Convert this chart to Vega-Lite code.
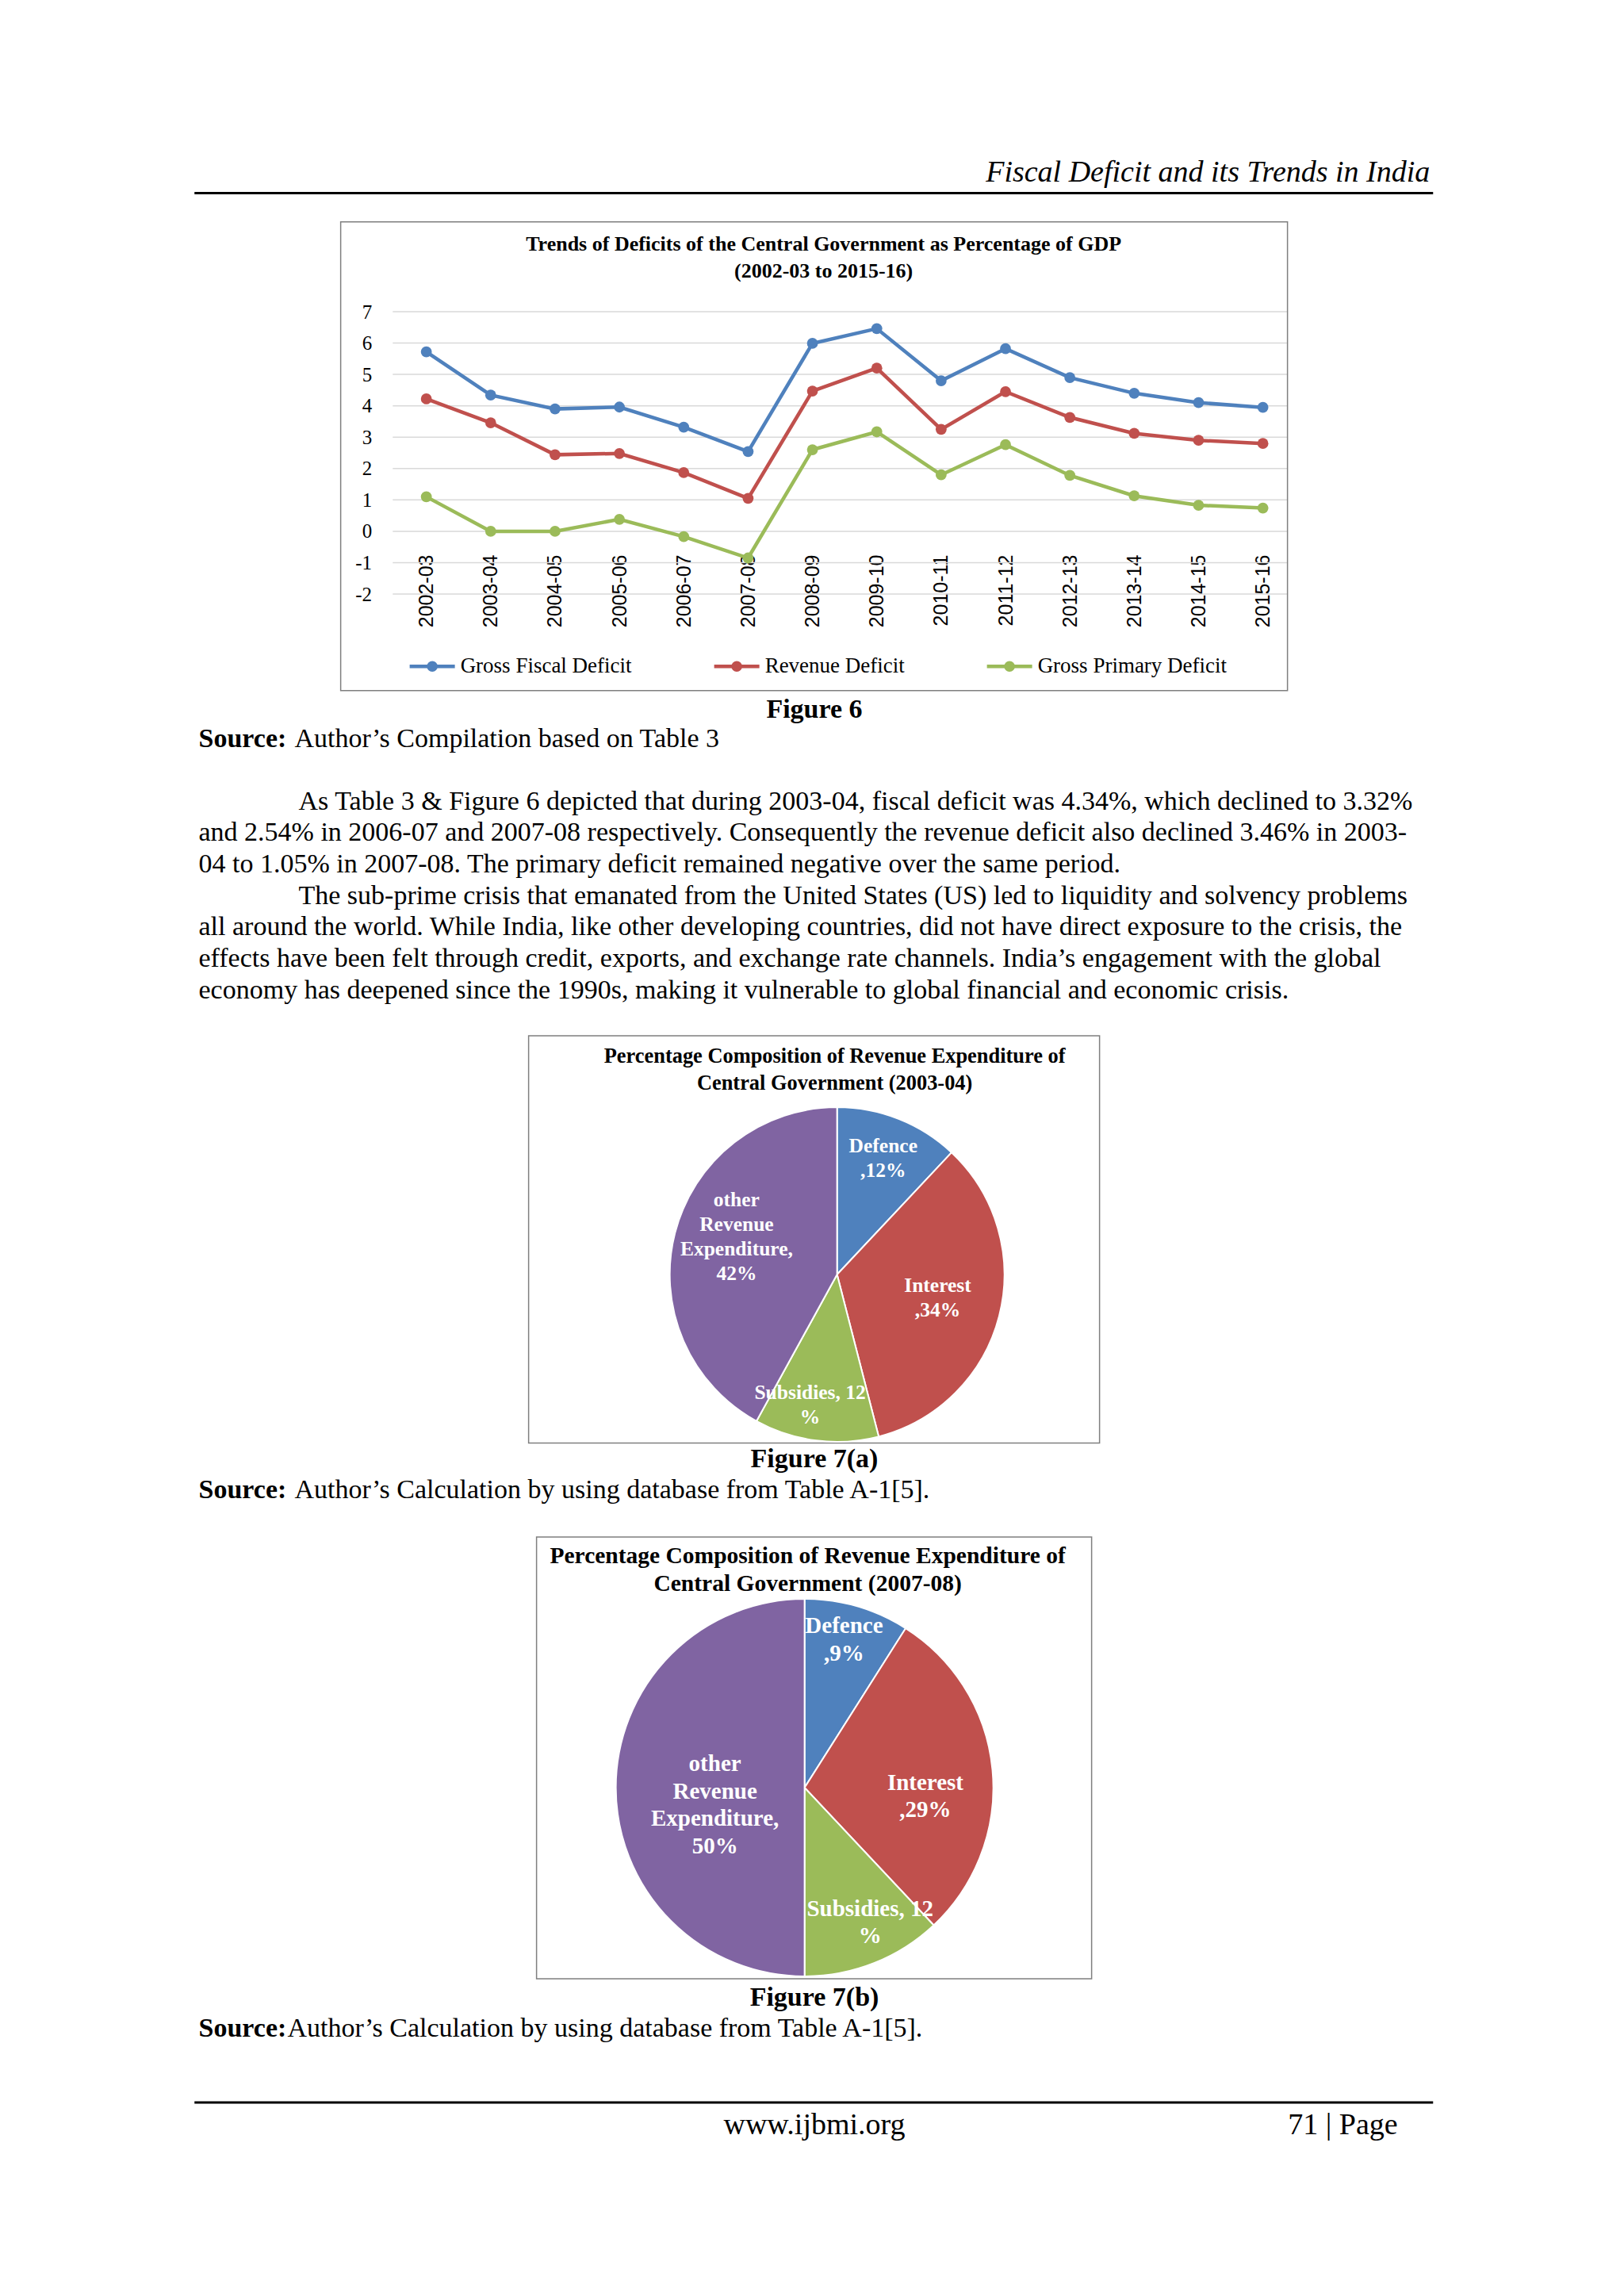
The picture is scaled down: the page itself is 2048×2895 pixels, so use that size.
{
  "$schema": "https://vega.github.io/schema/vega-lite/v6.json",
  "background": "white",
  "padding": {"top": 194, "left": 243, "right": 243, "bottom": 205},
  "spacing": 0,
  "center": true,
  "resolve": {"scale": {"color": "independent", "theta": "independent"}, "legend": {"color": "independent"}},
  "config": {"view": {"stroke": null}, "font": "Liberation Serif", "title": {"color": "#000"}},
  "vconcat": [
    {
      "width": 1562, "height": 48,
      "data": {"values": [{"header": "Fiscal Deficit and its Trends in India"}]},
      "mark": {"type": "text", "font": "Liberation Serif", "fontStyle": "italic", "fontSize": 38, "align": "right", "baseline": "middle", "fill": "#000"},
      "encoding": {
        "text": {"field": "header"},
        "x": {"datum": 0.997, "type": "quantitative", "scale": {"domain": [0, 1]}, "axis": null}
      }
    },
    {
      "width": 1562, "height": 35.15,
      "data": {"values": [{}]},
      "mark": {"type": "rule", "color": "#000", "strokeWidth": 3},
      "encoding": {"y": {"datum": 0.957, "type": "quantitative", "scale": {"domain": [0, 1]}, "axis": null}}
    },
    {
      "width": 1194, "height": 356,
      "title": {"text": ["Trends of Deficits of the Central Government as Percentage of GDP", "(2002-03 to 2015-16)"], "font": "Liberation Serif", "fontSize": 26, "fontWeight": "bold", "lineHeight": 34, "anchor": "middle", "offset": -76, "dx": 12},
      "layer": [
        {
          "data": {"values": [{"level": -2}, {"level": -1}, {"level": 0}, {"level": 1}, {"level": 2}, {"level": 3}, {"level": 4}, {"level": 5}, {"level": 6}, {"level": 7}]},
          "mark": {"type": "rule", "color": "#d9d9d9", "strokeWidth": 1.5},
          "encoding": {
            "y": {"field": "level", "type": "quantitative", "scale": {"domain": [-2, 7], "nice": false, "zero": false}, "axis": null},
            "x": {"datum": 0.055, "type": "quantitative", "scale": {"domain": [0, 1], "nice": false}, "axis": null},
            "x2": {"datum": 1}
          }
        },
        {
          "data": {"values": [
            {"year": "2002-03", "series": "Gross Fiscal Deficit", "value": 5.72},
            {"year": "2003-04", "series": "Gross Fiscal Deficit", "value": 4.34},
            {"year": "2004-05", "series": "Gross Fiscal Deficit", "value": 3.9},
            {"year": "2005-06", "series": "Gross Fiscal Deficit", "value": 3.96},
            {"year": "2006-07", "series": "Gross Fiscal Deficit", "value": 3.32},
            {"year": "2007-08", "series": "Gross Fiscal Deficit", "value": 2.54},
            {"year": "2008-09", "series": "Gross Fiscal Deficit", "value": 5.99},
            {"year": "2009-10", "series": "Gross Fiscal Deficit", "value": 6.46},
            {"year": "2010-11", "series": "Gross Fiscal Deficit", "value": 4.8},
            {"year": "2011-12", "series": "Gross Fiscal Deficit", "value": 5.82},
            {"year": "2012-13", "series": "Gross Fiscal Deficit", "value": 4.9},
            {"year": "2013-14", "series": "Gross Fiscal Deficit", "value": 4.4},
            {"year": "2014-15", "series": "Gross Fiscal Deficit", "value": 4.1},
            {"year": "2015-16", "series": "Gross Fiscal Deficit", "value": 3.95},
            {"year": "2002-03", "series": "Revenue Deficit", "value": 4.22},
            {"year": "2003-04", "series": "Revenue Deficit", "value": 3.46},
            {"year": "2004-05", "series": "Revenue Deficit", "value": 2.44},
            {"year": "2005-06", "series": "Revenue Deficit", "value": 2.48},
            {"year": "2006-07", "series": "Revenue Deficit", "value": 1.87},
            {"year": "2007-08", "series": "Revenue Deficit", "value": 1.05},
            {"year": "2008-09", "series": "Revenue Deficit", "value": 4.47},
            {"year": "2009-10", "series": "Revenue Deficit", "value": 5.2},
            {"year": "2010-11", "series": "Revenue Deficit", "value": 3.25},
            {"year": "2011-12", "series": "Revenue Deficit", "value": 4.45},
            {"year": "2012-13", "series": "Revenue Deficit", "value": 3.63},
            {"year": "2013-14", "series": "Revenue Deficit", "value": 3.12},
            {"year": "2014-15", "series": "Revenue Deficit", "value": 2.9},
            {"year": "2015-16", "series": "Revenue Deficit", "value": 2.8},
            {"year": "2002-03", "series": "Gross Primary Deficit", "value": 1.1},
            {"year": "2003-04", "series": "Gross Primary Deficit", "value": 0.0},
            {"year": "2004-05", "series": "Gross Primary Deficit", "value": 0.0},
            {"year": "2005-06", "series": "Gross Primary Deficit", "value": 0.38},
            {"year": "2006-07", "series": "Gross Primary Deficit", "value": -0.17},
            {"year": "2007-08", "series": "Gross Primary Deficit", "value": -0.85},
            {"year": "2008-09", "series": "Gross Primary Deficit", "value": 2.6},
            {"year": "2009-10", "series": "Gross Primary Deficit", "value": 3.17},
            {"year": "2010-11", "series": "Gross Primary Deficit", "value": 1.8},
            {"year": "2011-12", "series": "Gross Primary Deficit", "value": 2.76},
            {"year": "2012-13", "series": "Gross Primary Deficit", "value": 1.78},
            {"year": "2013-14", "series": "Gross Primary Deficit", "value": 1.13},
            {"year": "2014-15", "series": "Gross Primary Deficit", "value": 0.83},
            {"year": "2015-16", "series": "Gross Primary Deficit", "value": 0.74}
          ]},
          "mark": {"type": "line", "strokeWidth": 4.5, "point": {"filled": true, "size": 190}},
          "encoding": {
            "x": {"field": "year", "type": "ordinal", "sort": null,
                  "scale": {"type": "point", "padding": 0.8566, "align": 0.777},
                  "axis": {"title": null, "domain": false, "ticks": false, "tickSize": 0, "grid": false, "labelAngle": -90, "labelFont": "Liberation Sans", "labelFontSize": 25, "labelColor": "#000", "labelPadding": 0, "offset": -50}},
            "y": {"field": "value", "type": "quantitative",
                  "scale": {"domain": [-2, 7], "nice": false, "zero": false},
                  "axis": {"values": [-2, -1, 0, 1, 2, 3, 4, 5, 6, 7], "labelExpr": "replace(datum.label, '\u2212', '-')", "title": null, "domain": false, "ticks": false, "grid": false, "labelFont": "Liberation Serif", "labelFontSize": 25, "labelColor": "#000", "labelPadding": 28, "offset": -67}},
            "color": {"field": "series", "type": "nominal",
                      "scale": {"domain": ["Gross Fiscal Deficit", "Revenue Deficit", "Gross Primary Deficit"], "range": ["#4F81BD", "#C0504D", "#9BBB59"]},
                      "legend": {"orient": "none", "legendX": 84.5, "legendY": 416, "direction": "horizontal", "columns": 3, "title": null,
                                 "symbolType": "M-1,0H1M-0.16,0A0.16,0.16,0,1,1,0.16,0A0.16,0.16,0,1,1,-0.16,0Z",
                                 "symbolSize": 3249, "symbolStrokeWidth": 4.5, "labelFont": "Liberation Serif", "labelFontSize": 27, "labelColor": "#000", "labelOffset": 4.5, "columnPadding": 94, "labelLimit": 0}}
          }
        },
        {
          "data": {"values": [{}]},
          "mark": {"type": "rect", "filled": false, "stroke": "#7f7f7f", "strokeWidth": 1.5},
          "encoding": {
            "x": {"datum": 0, "type": "quantitative", "scale": {"domain": [0, 1], "nice": false}, "axis": null},
            "x2": {"datum": 1},
            "y": {"datum": 1.3183, "type": "quantitative", "scale": {"domain": [0, 1], "nice": false, "zero": false}, "axis": null},
            "y2": {"datum": -0.3419}
          }
        }
      ],
      "resolve": {"scale": {"x": "independent", "y": "independent"}, "axis": {"x": "independent", "y": "independent"}}
    },
    {
      "width": 1553, "height": 40.9,
      "data": {"values": [{"caption": "Figure 6"}]},
      "mark": {"type": "text", "fontSize": 34, "fontWeight": "bold", "align": "center", "baseline": "middle", "dy": 2.6, "fill": "#000"},
      "encoding": {"text": {"field": "caption"}, "x": {"datum": 0.5, "type": "quantitative", "scale": {"domain": [0, 1]}, "axis": null}}
    },
    {
      "width": 1553, "height": 37.5,
      "data": {"values": [{"lead": "Source:", "rest": "Author’s Compilation based on Table 3"}]},
      "encoding": {"x": {"datum": 0, "type": "quantitative", "scale": {"domain": [0, 1]}, "axis": null}},
      "layer": [
        {"mark": {"type": "text", "fontSize": 34, "fontWeight": "bold", "align": "left", "baseline": "middle", "fill": "#000"}, "encoding": {"text": {"field": "lead"}}},
        {"mark": {"type": "text", "fontSize": 34, "align": "left", "baseline": "middle", "dx": 121, "fill": "#000"}, "encoding": {"text": {"field": "rest"}}}
      ]
    },
    {
      "width": 1553, "height": 353.6,
      "data": {"values": [
        {"line": "As Table 3 & Figure 6 depicted that during 2003-04, fiscal deficit was 4.34%, which declined to 3.32%"},
        {"line": "and 2.54% in 2006-07 and 2007-08 respectively. Consequently the revenue deficit also declined 3.46% in 2003-"},
        {"line": "04 to 1.05% in 2007-08. The primary deficit remained negative over the same period."},
        {"line": "The sub-prime crisis that emanated from the United States (US) led to liquidity and solvency problems"},
        {"line": "all around the world. While India, like other developing countries, did not have direct exposure to the crisis, the"},
        {"line": "effects have been felt through credit, exports, and exchange rate channels. India’s engagement with the global"},
        {"line": "economy has deepened since the 1990s, making it vulnerable to global financial and economic crisis."}
      ]},
      "transform": [{"window": [{"op": "row_number", "as": "n"}]}],
      "encoding": {
        "text": {"field": "line"},
        "x": {"datum": 0, "type": "quantitative", "scale": {"domain": [0, 1]}, "axis": null},
        "y": {"field": "n", "type": "ordinal", "scale": {"type": "band", "paddingInner": 0, "paddingOuter": 0.9534, "align": 0.5244}, "axis": null}
      },
      "layer": [
        {"transform": [{"filter": "datum.n == 1 || datum.n == 4"}],
         "mark": {"type": "text", "fontSize": 34, "align": "left", "baseline": "middle", "dx": 126, "fill": "#000"}},
        {"transform": [{"filter": "datum.n != 1 && datum.n != 4"}],
         "mark": {"type": "text", "fontSize": 34, "align": "left", "baseline": "middle", "fill": "#000"}}
      ]
    },
    {
      "width": 720, "height": 513.5,
      "view": {"stroke": "#7f7f7f", "strokeWidth": 1.5},
      "title": {"text": ["Percentage Composition of Revenue Expenditure of", "Central Government (2003-04)"], "font": "Liberation Serif", "fontSize": 26.4, "fontWeight": "bold", "lineHeight": 33.6, "anchor": "middle", "offset": -73, "dx": 26},
      "data": {"values": [
        {"category": "Defence", "share": 12, "label": "Defence\n,12%"},
        {"category": "Interest", "share": 34, "label": "Interest\n,34%"},
        {"category": "Subsidies", "share": 12, "label": "Subsidies, 12\n%"},
        {"category": "other Revenue Expenditure", "share": 42, "label": "other\nRevenue\nExpenditure,\n42%"}
      ]},
      "encoding": {
        "theta": {"field": "share", "type": "quantitative", "stack": true},
        "order": {"field": "category", "type": "nominal", "sort": "ascending"}
      },
      "layer": [
        {"mark": {"type": "arc", "outerRadius": 211, "x": 389, "y": 301, "stroke": "white", "strokeWidth": 2},
         "encoding": {"color": {"field": "category", "type": "nominal", "scale": {"domain": ["Defence", "Interest", "Subsidies", "other Revenue Expenditure"], "range": ["#4F81BD", "#C0504D", "#9BBB59", "#8064A2"]}, "legend": null}}},
        {"mark": {"type": "text", "radius": 158, "x": 389, "y": 301, "dy": -15.5, "fill": "white", "fontWeight": "bold", "fontSize": 25.5, "lineHeight": 31, "lineBreak": "\n", "align": "center", "baseline": "middle"},
         "encoding": {"text": {"condition": {"test": "datum.category == 'Defence'", "field": "label"}, "value": ""}}},
        {"mark": {"type": "text", "radius": 131, "x": 389, "y": 301, "dy": -19, "fill": "white", "fontWeight": "bold", "fontSize": 25.5, "lineHeight": 31, "lineBreak": "\n", "align": "center", "baseline": "middle"},
         "encoding": {"text": {"condition": {"test": "datum.category == 'Interest'", "field": "label"}, "value": ""}}},
        {"mark": {"type": "text", "radius": 168, "x": 389, "y": 301, "dx": -13, "dy": -17.5, "fill": "white", "fontWeight": "bold", "fontSize": 25.5, "lineHeight": 31, "lineBreak": "\n", "align": "center", "baseline": "middle"},
         "encoding": {"text": {"condition": {"test": "datum.category == 'Subsidies'", "field": "label"}, "value": ""}}},
        {"mark": {"type": "text", "radius": 136, "x": 389, "y": 301, "dx": 5, "dy": -60.5, "fill": "white", "fontWeight": "bold", "fontSize": 25.5, "lineHeight": 31, "lineBreak": "\n", "align": "center", "baseline": "middle"},
         "encoding": {"text": {"condition": {"test": "datum.category == 'other Revenue Expenditure'", "field": "label"}, "value": ""}}}
      ]
    },
    {
      "width": 1553, "height": 35.85,
      "data": {"values": [{"caption": "Figure 7(a)"}]},
      "mark": {"type": "text", "fontSize": 34, "fontWeight": "bold", "align": "center", "baseline": "middle", "dy": -1.85, "fill": "#000"},
      "encoding": {"text": {"field": "caption"}, "x": {"datum": 0.5, "type": "quantitative", "scale": {"domain": [0, 1]}, "axis": null}}
    },
    {
      "width": 1553, "height": 76.55,
      "data": {"values": [{"lead": "Source:", "rest": "Author’s Calculation by using database from Table A-1[5]."}]},
      "encoding": {"x": {"datum": 0, "type": "quantitative", "scale": {"domain": [0, 1]}, "axis": null}},
      "layer": [
        {"mark": {"type": "text", "fontSize": 34, "fontWeight": "bold", "align": "left", "baseline": "middle", "dy": -18.9, "fill": "#000"}, "encoding": {"text": {"field": "lead"}}},
        {"mark": {"type": "text", "fontSize": 34, "align": "left", "baseline": "middle", "dx": 121, "dy": -18.9, "fill": "#000"}, "encoding": {"text": {"field": "rest"}}}
      ]
    },
    {
      "width": 700, "height": 557,
      "view": {"stroke": "#7f7f7f", "strokeWidth": 1.5},
      "title": {"text": ["Percentage Composition of Revenue Expenditure of", "Central Government (2007-08)"], "font": "Liberation Serif", "fontSize": 29.5, "fontWeight": "bold", "lineHeight": 35, "anchor": "middle", "offset": -74, "dx": -8},
      "data": {"values": [
        {"category": "Defence", "share": 9, "label": "Defence\n,9%"},
        {"category": "Interest", "share": 29, "label": "Interest\n,29%"},
        {"category": "Subsidies", "share": 12, "label": "Subsidies, 12\n%"},
        {"category": "other Revenue Expenditure", "share": 50, "label": "other\nRevenue\nExpenditure,\n50%"}
      ]},
      "encoding": {
        "theta": {"field": "share", "type": "quantitative", "stack": true},
        "order": {"field": "category", "type": "nominal", "sort": "ascending"}
      },
      "layer": [
        {"mark": {"type": "arc", "outerRadius": 238, "x": 338, "y": 316, "stroke": "white", "strokeWidth": 2},
         "encoding": {"color": {"field": "category", "type": "nominal", "scale": {"domain": ["Defence", "Interest", "Subsidies", "other Revenue Expenditure"], "range": ["#4F81BD", "#C0504D", "#9BBB59", "#8064A2"]}, "legend": null}}},
        {"mark": {"type": "text", "radius": 193, "x": 338, "y": 316, "dx": -4, "dy": -18.25, "fill": "white", "fontWeight": "bold", "fontSize": 29, "lineHeight": 34.5, "lineBreak": "\n", "align": "center", "baseline": "middle"},
         "encoding": {"text": {"condition": {"test": "datum.category == 'Defence'", "field": "label"}, "value": ""}}},
        {"mark": {"type": "text", "radius": 153, "x": 338, "y": 316, "dy": 8.25, "fill": "white", "fontWeight": "bold", "fontSize": 29, "lineHeight": 34.5, "lineBreak": "\n", "align": "center", "baseline": "middle"},
         "encoding": {"text": {"condition": {"test": "datum.category == 'Interest'", "field": "label"}, "value": ""}}},
        {"mark": {"type": "text", "radius": 189, "x": 338, "y": 316, "dx": 13, "dy": -23, "fill": "white", "fontWeight": "bold", "fontSize": 29, "lineHeight": 34.5, "lineBreak": "\n", "align": "center", "baseline": "middle"},
         "encoding": {"text": {"condition": {"test": "datum.category == 'Subsidies'", "field": "label"}, "value": ""}}},
        {"mark": {"type": "text", "radius": 115, "x": 338, "y": 316, "dx": 2, "dy": -29.75, "fill": "white", "fontWeight": "bold", "fontSize": 29, "lineHeight": 34.5, "lineBreak": "\n", "align": "center", "baseline": "middle"},
         "encoding": {"text": {"condition": {"test": "datum.category == 'other Revenue Expenditure'", "field": "label"}, "value": ""}}}
      ]
    },
    {
      "width": 1553, "height": 41.35,
      "data": {"values": [{"caption": "Figure 7(b)"}]},
      "mark": {"type": "text", "fontSize": 34, "fontWeight": "bold", "align": "center", "baseline": "middle", "dy": 1.3, "fill": "#000"},
      "encoding": {"text": {"field": "caption"}, "x": {"datum": 0.5, "type": "quantitative", "scale": {"domain": [0, 1]}, "axis": null}}
    },
    {
      "width": 1553, "height": 38.7,
      "data": {"values": [{"lead": "Source:", "rest": "Author’s Calculation by using database from Table A-1[5]."}]},
      "encoding": {"x": {"datum": 0, "type": "quantitative", "scale": {"domain": [0, 1]}, "axis": null}},
      "layer": [
        {"mark": {"type": "text", "fontSize": 34, "fontWeight": "bold", "align": "left", "baseline": "middle", "fill": "#000"}, "encoding": {"text": {"field": "lead"}}},
        {"mark": {"type": "text", "fontSize": 34, "align": "left", "baseline": "middle", "dx": 112, "fill": "#000"}, "encoding": {"text": {"field": "rest"}}}
      ]
    },
    {
      "width": 1562, "height": 75.1,
      "data": {"values": [{}]},
      "mark": {"type": "rule", "color": "#000", "strokeWidth": 3},
      "encoding": {"y": {"datum": 0.0266, "type": "quantitative", "scale": {"domain": [0, 1]}, "axis": null}}
    },
    {
      "width": 1562, "height": 51,
      "data": {"values": [{"site": "www.ijbmi.org", "page": "71 | Page"}]},
      "layer": [
        {"mark": {"type": "text", "fontSize": 38, "align": "center", "baseline": "middle", "fill": "#000"},
         "encoding": {"text": {"field": "site"}, "x": {"datum": 0.5, "type": "quantitative", "scale": {"domain": [0, 1]}, "axis": null}}},
        {"mark": {"type": "text", "fontSize": 38, "align": "right", "baseline": "middle", "fill": "#000"},
         "encoding": {"text": {"field": "page"}, "x": {"datum": 0.971, "type": "quantitative", "scale": {"domain": [0, 1]}, "axis": null}}}
      ]
    }
  ]
}
